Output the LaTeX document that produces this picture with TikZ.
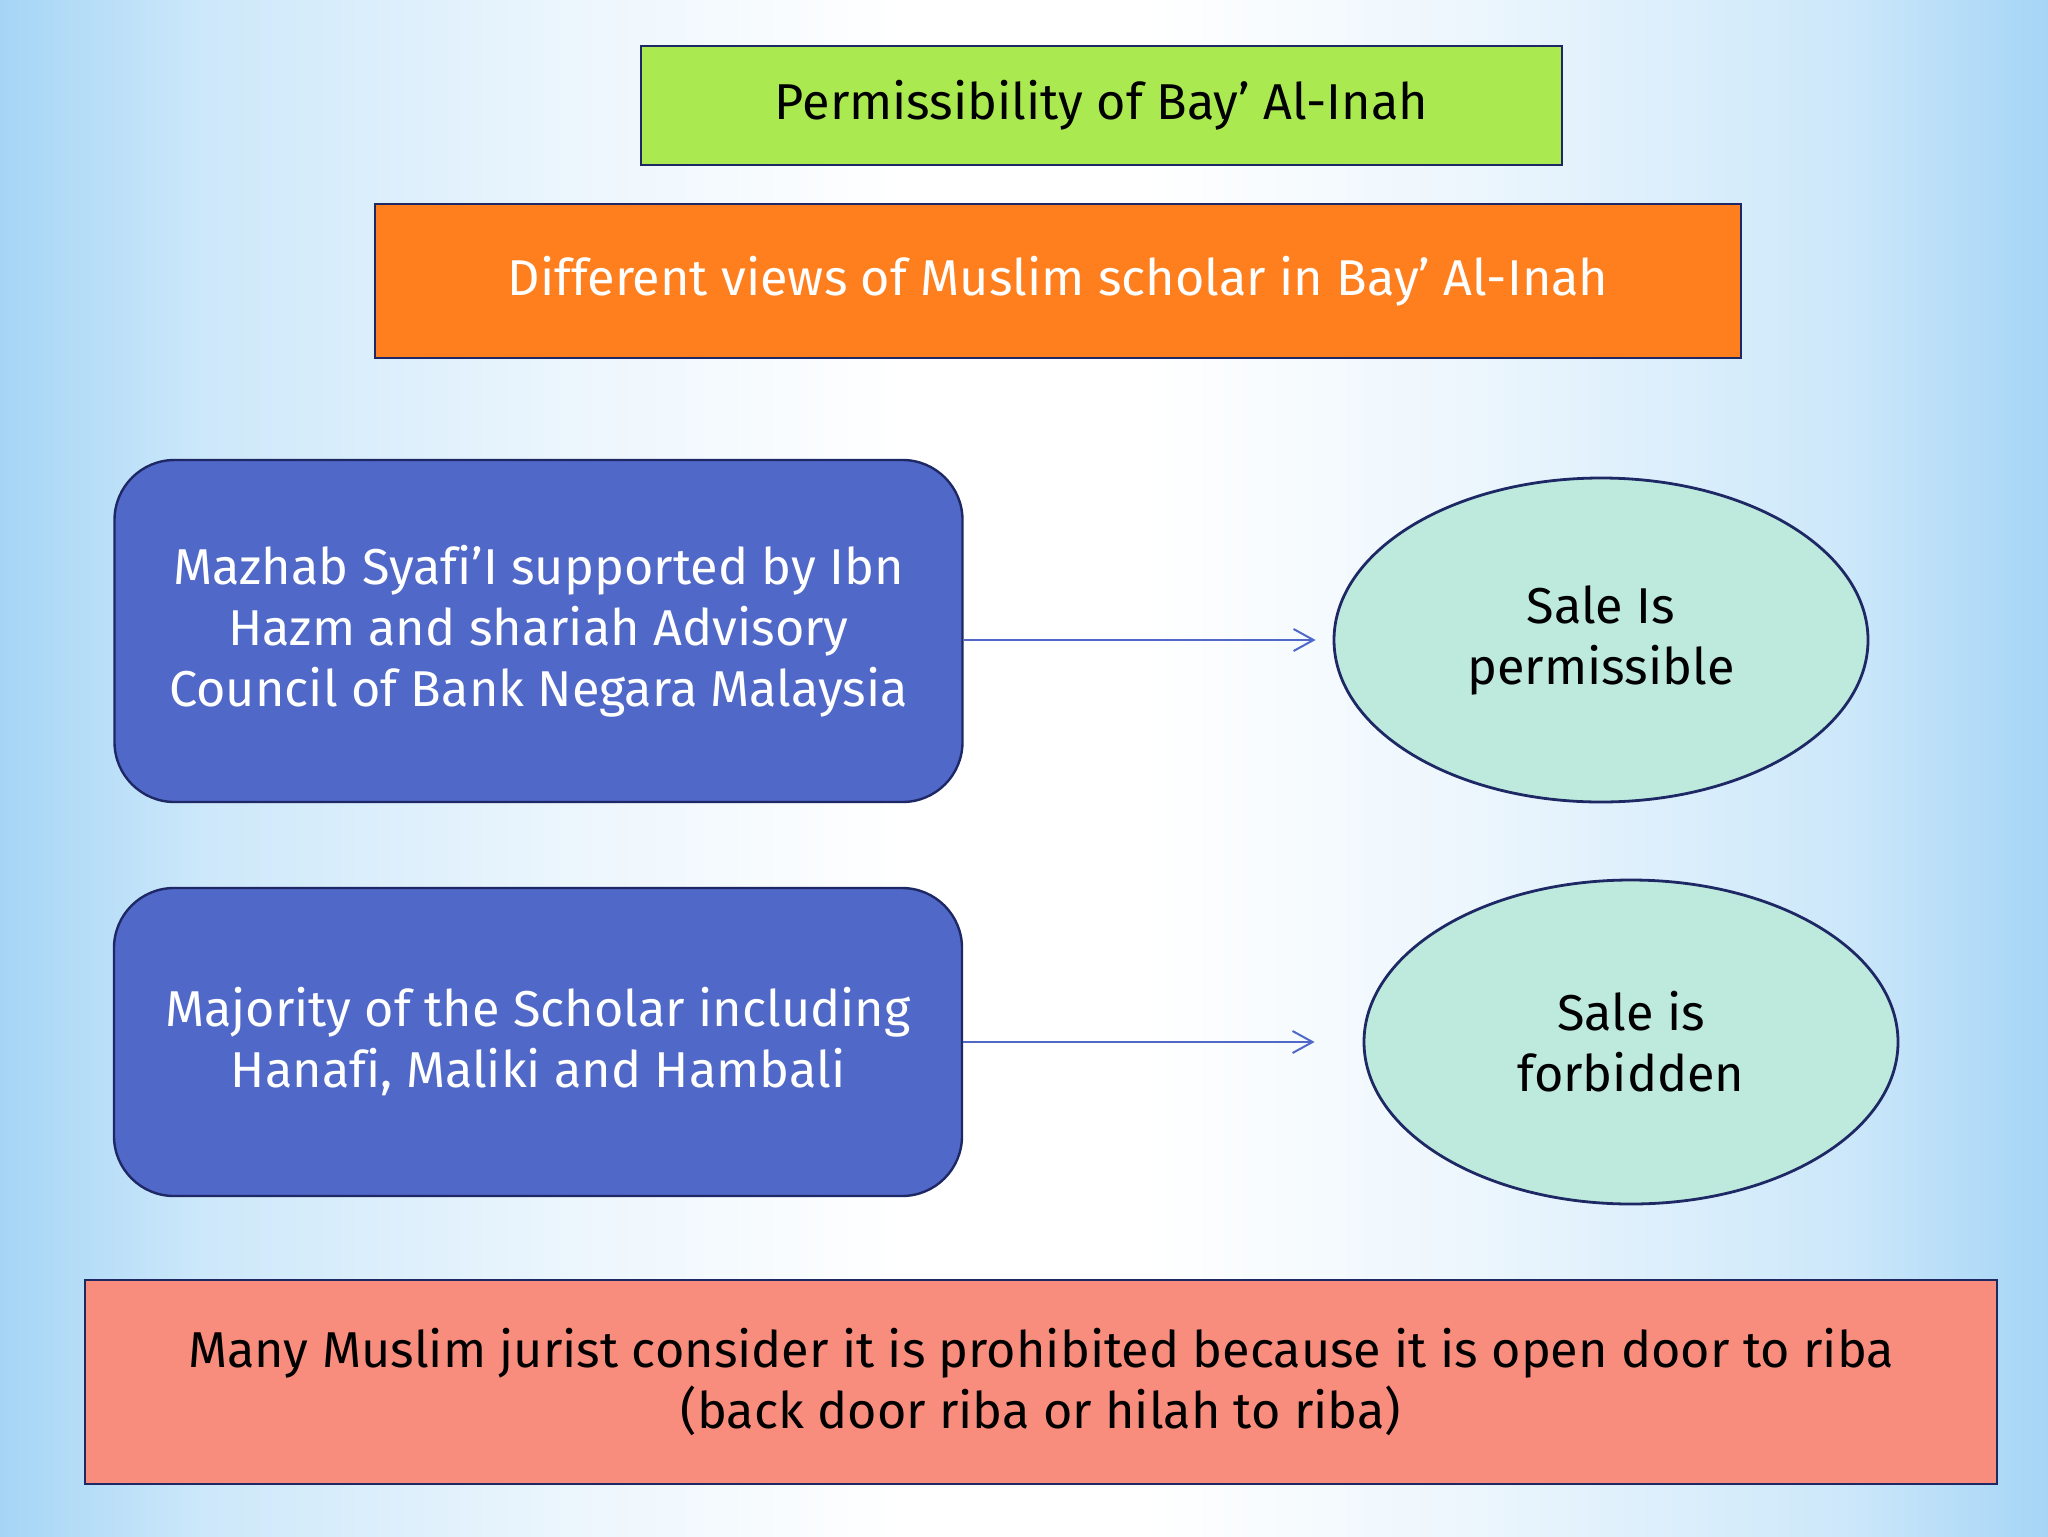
\documentclass[tikz,border=0pt]{standalone}
\usepackage{fontspec}
\setmainfont[Ligatures=NoCommon]{Fira Sans}
\usetikzlibrary{arrows.meta,shapes.geometric}

\definecolor{bgblue}{RGB}{165,213,246}
\definecolor{bgmid}{RGB}{205,232,250}
\definecolor{bglight}{RGB}{236,246,253}
\definecolor{navy}{RGB}{30,40,100}
\definecolor{limegreen}{RGB}{170,234,80}
\definecolor{brightorange}{RGB}{255,127,30}
\definecolor{viewblue}{RGB}{80,104,200}
\definecolor{mint}{RGB}{190,234,222}
\definecolor{salmon}{RGB}{248,140,125}

\pgfdeclarehorizontalshading{slidebg}{100bp}{color(0bp)=(bgblue); color(25bp)=(bgblue); color(30bp)=(bgmid); color(39bp)=(bglight); color(47bp)=(white); color(53bp)=(white); color(61bp)=(bglight); color(70bp)=(bgmid); color(75bp)=(bgblue); color(100bp)=(bgblue)}

\tikzset{%
        every box/.style={
            draw=navy,
            line width=1.2pt,
            align=center,
            inner sep=0pt,
            font=\fontsize{25.2}{30.5}\selectfont
        },
        title box/.style={
            fill=limegreen,
            minimum width=460.5pt,
            minimum height=59.5pt
        },
        heading box/.style={
            fill=brightorange,
            text=white,
            minimum width=683pt,
            minimum height=77pt
        },
        view box/.style={
            fill=viewblue,
            text=white,
            rounded corners=30pt,
            minimum width=424pt
        },
        result/.style={
            ellipse,
            line width=1.4pt,
            fill=mint,
            minimum width=267pt,
            minimum height=162pt
        },
        note box/.style={
            fill=salmon,
            minimum width=956pt,
            minimum height=102pt
        },
    }

\begin{document}
\begin{tikzpicture}[x=0.5pt, y=-0.5pt, >={Straight Barb[length=10pt,width=11pt]}]

        \useasboundingbox (0,0) rectangle (2048,1536);
        \shade [shading=slidebg] (0,0) rectangle (2048,1536);

        \node [every box, title box] (title) at (1101.5,105.5) {Permissibility of Bay’ Al-Inah};

        \node [every box, heading box] (heading) at (1058,281) {Different views of Muslim scholar in Bay’ Al-Inah};

        \node [every box, view box, minimum height=171pt] (view-1) at (538.5,631)
            {Mazhab Syafi’I supported by Ibn\\Hazm and shariah Advisory\\Council of Bank Negara Malaysia};
        \node [every box, view box, minimum height=154pt] (view-2) at (538,1042)
            {Majority of the Scholar including\\Hanafi, Maliki and Hambali};

        \node [every box, result] (result-1) at (1601,640) {Sale Is\\permissible};
        \node [every box, result] (result-2) at (1631,1042) {Sale is\\forbidden};

        \foreach \i/\s in {1/8.5pt, 2/24pt}
            \draw [->, viewblue, line width=1pt, shorten >=\s] (view-\i.east |- result-\i) -- (result-\i.west);

        \node [every box, note box] (note) at (1041,1382)
            {Many Muslim jurist consider it is prohibited because it is open door to riba\\(back door riba or hilah to riba)};
    \end{tikzpicture}
\end{document}
